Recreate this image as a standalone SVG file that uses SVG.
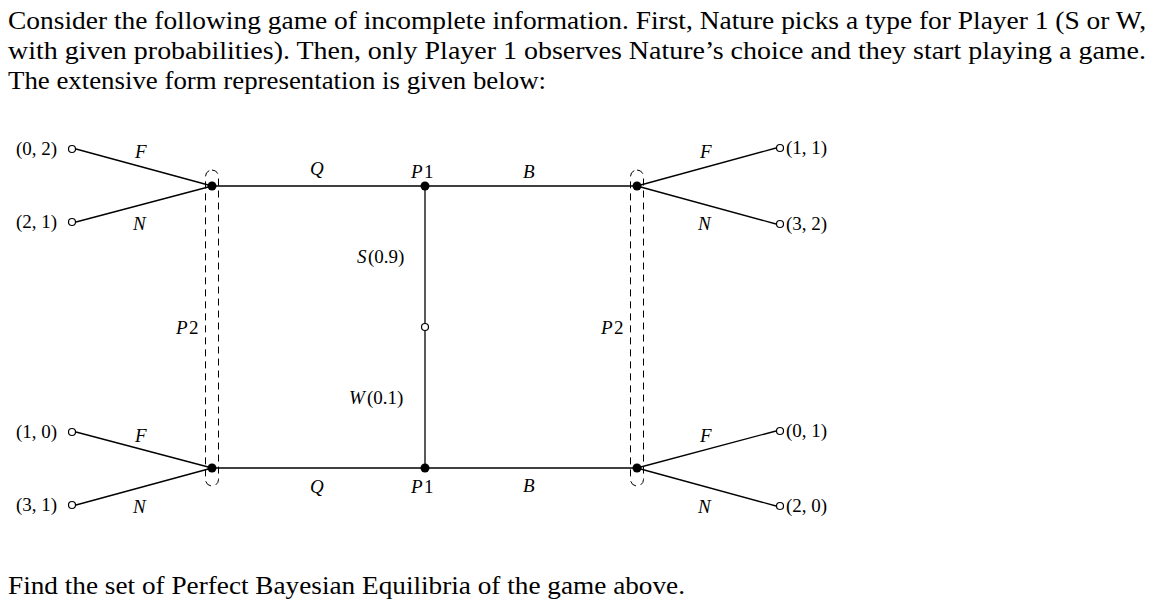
<svg xmlns="http://www.w3.org/2000/svg" width="1155" height="603" viewBox="0 0 1155 603">
<style>
text{font-family:"Liberation Serif","Times New Roman",serif;fill:#000}
.p{font-size:24.5px}
.l{font-size:19px}
.i{font-style:italic}
.e{stroke:#000;stroke-width:1.3;fill:none}
.t{fill:#fff;stroke:#000;stroke-width:1.2}
.d{fill:none;stroke:#000;stroke-width:1;stroke-dasharray:7,5}
</style>
<rect width="1155" height="603" fill="#fff"/>
<text class="p" x="8" y="29" textLength="1138" lengthAdjust="spacingAndGlyphs">Consider the following game of incomplete information. First, Nature picks a type for Player 1 (S or W,</text>
<text class="p" x="8" y="59" textLength="1138" lengthAdjust="spacingAndGlyphs">with given probabilities). Then, only Player 1 observes Nature’s choice and they start playing a game.</text>
<text class="p" x="8" y="89" textLength="538" lengthAdjust="spacingAndGlyphs">The extensive form representation is given below:</text>
<text class="p" x="8" y="594" textLength="677" lengthAdjust="spacingAndGlyphs">Find the set of Perfect Bayesian Equilibria of the game above.</text>
<g id="connectors">
<line class="e" x1="212" y1="186" x2="637" y2="186"/>
<line class="e" x1="212" y1="468" x2="637" y2="468"/>
<line class="e" x1="425" y1="186" x2="425" y2="468"/>
<line class="e" x1="212" y1="186" x2="76" y2="149"/>
<line class="e" x1="212" y1="186" x2="76" y2="222"/>
<line class="e" x1="212" y1="468" x2="76" y2="432"/>
<line class="e" x1="212" y1="468" x2="76" y2="505"/>
<line class="e" x1="637" y1="186" x2="776" y2="148"/>
<line class="e" x1="637" y1="186" x2="776" y2="224"/>
<line class="e" x1="637" y1="468" x2="776" y2="431"/>
<line class="e" x1="637" y1="468" x2="776" y2="506"/>
</g>
<g id="infosets">
<rect class="d" x="205.5" y="170" width="13" height="316" rx="6.5"/>
<rect class="d" x="630.5" y="170" width="13" height="316" rx="6.5"/>
<text class="l i" x="176" y="334">P</text><text class="l" x="189" y="334">2</text>
<text class="l i" x="601" y="334">P</text><text class="l" x="614" y="334">2</text>
</g>
<g id="nature"><circle class="t" cx="425" cy="327" r="3.5"/>
<text class="l i" x="357" y="263">S</text><text class="l" x="368" y="263">(0.9)</text>
<text class="l i" x="349" y="404">W</text><text class="l" x="367" y="404">(0.1)</text></g>
<g id="p1top"><circle cx="425" cy="186" r="4.5"/><text class="l i" x="411" y="178">P</text><text class="l" x="424" y="178">1</text></g>
<g id="p1bot"><circle cx="425" cy="468" r="4.5"/><text class="l i" x="411" y="493">P</text><text class="l" x="424" y="493">1</text></g>
<g id="labels" class="l i">
<text x="310" y="175">Q</text><text x="310" y="493">Q</text>
<text x="523" y="178">B</text><text x="523" y="492">B</text>
<text x="135" y="158">F</text><text x="133" y="230">N</text>
<text x="135" y="442">F</text><text x="133" y="513">N</text>
<text x="700" y="158">F</text><text x="698" y="230">N</text>
<text x="700" y="442">F</text><text x="698" y="513">N</text>
</g>
<g id="p2left"><circle cx="212" cy="186" r="4.5"/><circle cx="212" cy="468" r="4.5"/></g>
<g id="p2right"><circle cx="637" cy="186" r="4.5"/><circle cx="637" cy="468" r="4.5"/></g>
<g id="terminals">
<circle class="t" cx="72" cy="149" r="3.5"/><text class="l" x="16" y="155">(0, 2)</text>
<circle class="t" cx="72" cy="222" r="3.5"/><text class="l" x="16" y="228">(2, 1)</text>
<circle class="t" cx="72" cy="432" r="3.5"/><text class="l" x="16" y="438">(1, 0)</text>
<circle class="t" cx="72" cy="505" r="3.5"/><text class="l" x="16" y="511">(3, 1)</text>
<circle class="t" cx="780" cy="148" r="3.5"/><text class="l" x="786" y="154">(1, 1)</text>
<circle class="t" cx="780" cy="224" r="3.5"/><text class="l" x="786" y="230">(3, 2)</text>
<circle class="t" cx="780" cy="431" r="3.5"/><text class="l" x="786" y="437">(0, 1)</text>
<circle class="t" cx="780" cy="506" r="3.5"/><text class="l" x="786" y="512">(2, 0)</text>
</g>
</svg>
